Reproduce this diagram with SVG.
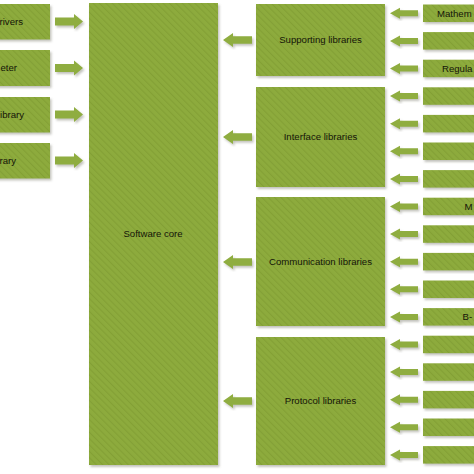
<svg xmlns="http://www.w3.org/2000/svg" width="474" height="474" viewBox="0 0 474 474">
<style>
.box{fill:url(#hatch);filter:url(#sh)}
.arr{fill:#8fad3f;filter:url(#sh)}
.t{font-family:"Liberation Sans",Arial,sans-serif;font-size:9.6px;fill:#141408}
</style>
<defs>
<pattern id="hatch" patternUnits="userSpaceOnUse" width="4.5" height="4.5" patternTransform="rotate(-45)">
<rect width="4.5" height="4.5" fill="#8dab3c"/>
<line x1="0.5" y1="0" x2="0.5" y2="4.5" stroke="#83a036" stroke-width="1.2"/>
</pattern>
<filter id="sh" x="-20%" y="-20%" width="140%" height="140%">
<feDropShadow dx="1.5" dy="2" stdDeviation="1.2" flood-color="#7a7a70" flood-opacity="0.45"/>
</filter>
<path id="la" d="M0,-4 H19 V-7.5 L28,0 L19,7.5 V4 H0 Z"/>
<path id="ma" d="M0,0 L10,-7 V-3.8 H29 V3.8 H10 V7 Z"/>
<path id="ra" d="M0,0 L10,-5.5 V-3 H28 V3 H10 V5.5 Z"/>
</defs>
<rect width="474" height="474" fill="#ffffff"/>

<g id="connectors">
<use href="#la" class="arr" x="55" y="21.5"/>
<use href="#la" class="arr" x="55" y="68"/>
<use href="#la" class="arr" x="55" y="114.5"/>
<use href="#la" class="arr" x="55" y="160.5"/>
<use href="#ma" class="arr" x="223" y="40"/>
<use href="#ma" class="arr" x="223" y="137"/>
<use href="#ma" class="arr" x="223" y="262"/>
<use href="#ma" class="arr" x="223" y="401"/>
<use href="#ra" class="arr" x="390" y="13.3"/>
<use href="#ra" class="arr" x="390" y="40.9"/>
<use href="#ra" class="arr" x="390" y="68.5"/>
<use href="#ra" class="arr" x="390" y="96.1"/>
<use href="#ra" class="arr" x="390" y="123.7"/>
<use href="#ra" class="arr" x="390" y="151.3"/>
<use href="#ra" class="arr" x="390" y="178.9"/>
<use href="#ra" class="arr" x="390" y="206.5"/>
<use href="#ra" class="arr" x="390" y="234.1"/>
<use href="#ra" class="arr" x="390" y="261.7"/>
<use href="#ra" class="arr" x="390" y="289.3"/>
<use href="#ra" class="arr" x="390" y="316.9"/>
<use href="#ra" class="arr" x="390" y="344.5"/>
<use href="#ra" class="arr" x="390" y="372.1"/>
<use href="#ra" class="arr" x="390" y="399.7"/>
<use href="#ra" class="arr" x="390" y="427.3"/>
<use href="#ra" class="arr" x="390" y="454.9"/>
</g>

<g id="left-1"><rect class="box" x="-10" y="4" width="60" height="35.5"/><text class="t" x="23" y="24.8" text-anchor="end">rivers</text></g>
<g id="left-2"><rect class="box" x="-10" y="50" width="60" height="36"/><text class="t" x="17" y="71.3" text-anchor="end">eter</text></g>
<g id="left-3"><rect class="box" x="-10" y="97" width="60" height="35.5"/><text class="t" x="24" y="117.8" text-anchor="end">ibrary</text></g>
<g id="left-4"><rect class="box" x="-10" y="143" width="60" height="35.5"/><text class="t" x="16" y="163.8" text-anchor="end">rary</text></g>

<g id="core"><rect class="box" x="89" y="3" width="129" height="462"/><text class="t" x="153" y="237.3" text-anchor="middle">Software core</text></g>

<g id="supporting"><rect class="box" x="256" y="4" width="129" height="72"/><text class="t" x="320.5" y="43.3" text-anchor="middle">Supporting libraries</text></g>
<g id="interface"><rect class="box" x="256" y="87" width="129" height="100"/><text class="t" x="320.5" y="140.3" text-anchor="middle">Interface libraries</text></g>
<g id="communication"><rect class="box" x="256" y="197" width="129" height="129"/><text class="t" x="320.5" y="265.3" text-anchor="middle">Communication libraries</text></g>
<g id="protocol"><rect class="box" x="256" y="337" width="129" height="128"/><text class="t" x="320.5" y="404.3" text-anchor="middle">Protocol libraries</text></g>

<g id="right-1"><rect class="box" x="423" y="4.5" width="60" height="17.5"/><text class="t" x="437" y="16.6">Mathem</text></g>
<g id="right-2"><rect class="box" x="423" y="32.1" width="60" height="17.5"/></g>
<g id="right-3"><rect class="box" x="423" y="59.7" width="60" height="17.5"/><text class="t" x="442" y="71.8">Regula</text></g>
<g id="right-4"><rect class="box" x="423" y="87.3" width="60" height="17.5"/></g>
<g id="right-5"><rect class="box" x="423" y="114.9" width="60" height="17.5"/></g>
<g id="right-6"><rect class="box" x="423" y="142.5" width="60" height="17.5"/></g>
<g id="right-7"><rect class="box" x="423" y="170.1" width="60" height="17.5"/></g>
<g id="right-8"><rect class="box" x="423" y="197.7" width="60" height="17.5"/><text class="t" x="464.5" y="209.8">M</text></g>
<g id="right-9"><rect class="box" x="423" y="225.3" width="60" height="17.5"/></g>
<g id="right-10"><rect class="box" x="423" y="252.9" width="60" height="17.5"/></g>
<g id="right-11"><rect class="box" x="423" y="280.5" width="60" height="17.5"/></g>
<g id="right-12"><rect class="box" x="423" y="308.1" width="60" height="17.5"/><text class="t" x="462.5" y="320.2">B-</text></g>
<g id="right-13"><rect class="box" x="423" y="335.7" width="60" height="17.5"/></g>
<g id="right-14"><rect class="box" x="423" y="363.3" width="60" height="17.5"/></g>
<g id="right-15"><rect class="box" x="423" y="390.9" width="60" height="17.5"/></g>
<g id="right-16"><rect class="box" x="423" y="418.5" width="60" height="17.5"/></g>
<g id="right-17"><rect class="box" x="423" y="446.1" width="60" height="17.5"/></g>
</svg>
